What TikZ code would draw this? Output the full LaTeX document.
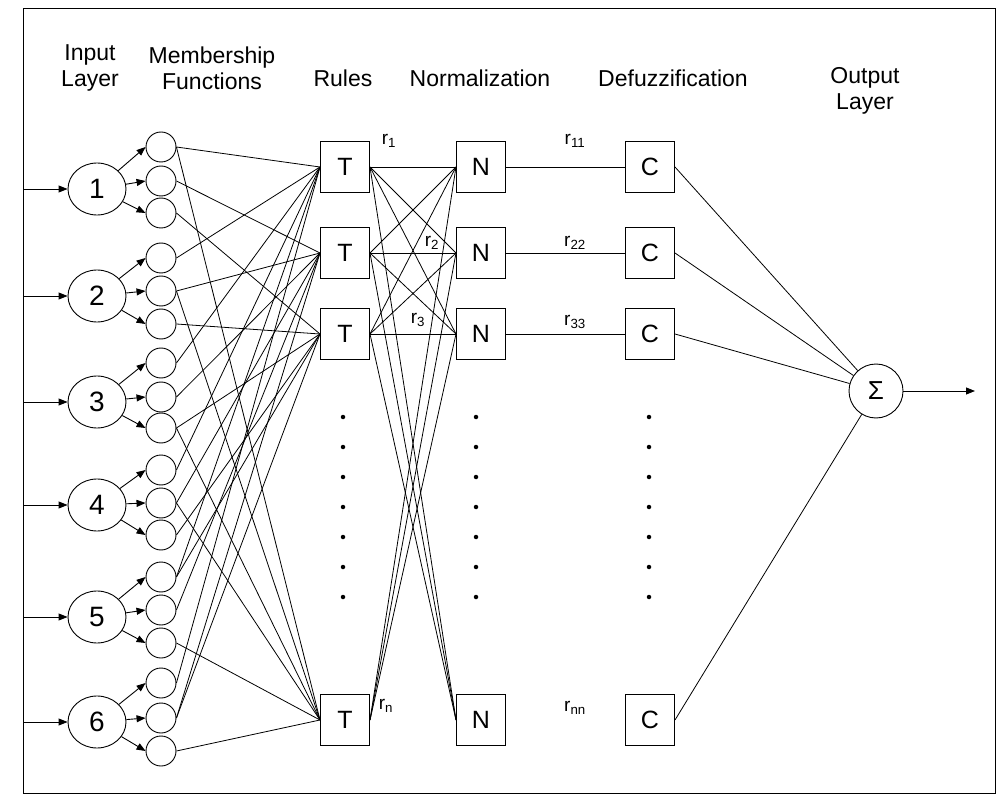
\documentclass[tikz,border=0pt]{standalone}
\usepackage{fontspec}
\setmainfont{Liberation Sans}
\usetikzlibrary{arrows.meta,shapes.geometric}
\begin{document}
\begin{tikzpicture}[x=1pt,y=-1pt,
  inp/.style={draw,ellipse,minimum width=58pt,minimum height=52pt,inner sep=0pt,font=\fontsize{28}{28}\selectfont,line width=0.9pt},
  mf/.style={draw,circle,minimum size=30pt,inner sep=0pt,line width=0.9pt},
  box/.style={draw,minimum width=49pt,minimum height=51pt,inner sep=0pt,font=\fontsize{25}{25}\selectfont,line width=1pt},
  hd/.style={align=center,font=\fontsize{23}{26}\selectfont},
  lb/.style={font=\fontsize{19}{19}\selectfont},
  arr/.style={-{Triangle[length=9pt,width=7pt]},line width=0.9pt},
  ln/.style={line width=0.8pt},
  dot/.style={circle,fill,inner sep=0pt,minimum size=4.5pt}]
\useasboundingbox (0,0) rectangle (1007,802);
\draw[line width=0.8pt] (23,8) rectangle (995,793);
\node[hd] at (90,68) {Input\\Layer};
\node[hd] at (212,68) {Membership\\Functions};
\node[hd] at (343,78) {Rules};
\node[hd] at (480,78) {Normalization};
\node[hd] at (673,78) {Defuzzification};
\node[hd] at (865,91) {Output\\Layer};
\foreach \i/\y in {1/189,2/296,3/402,4/505,5/617,6/722}{
  \node[inp] (I\i) at (97,\y) {\i};
  \coordinate (L\i) at (23,\y);
  \draw[arr] (L\i) -- (I\i);
}
\foreach \i/\a/\b/\c in {1/147/181/213,2/258/291/324,3/363/397/428,4/470/503/535,5/577/610/643,6/683/718/751}{
  \node[mf] (M\i a) at (161,\a) {};
  \node[mf] (M\i b) at (161,\b) {};
  \node[mf] (M\i c) at (161,\c) {};
  \foreach \k in {a,b,c}{\draw[arr] (I\i) -- (M\i\k.west);}
}
\foreach \k/\y in {1/167,2/253,3/334,4/720}{
  \node[box] (T\k) at (345,\y) {T};
  \node[box] (N\k) at (481,\y) {N};
  \node[box] (C\k) at (650,\y) {C};
}
\node[draw,circle,minimum size=54pt,inner sep=0pt,line width=0.9pt,font=\fontsize{26}{26}\selectfont] (S) at (876,391) {Σ};
\coordinate (O) at (975,391);
\draw[arr] (S) -- (O);
\foreach \y in {417,447,477,507,537,567,597}{
  \node[dot] at (343,\y) {}; \node[dot] at (476,\y) {}; \node[dot] at (649,\y) {};
}
\foreach \m in {1a,2a,3a,4a,5a,6a}{\draw[ln] (M\m.east) -- (T1.west);}
\foreach \m in {1b,2b,3b,4b,5b,6b}{\draw[ln] (M\m.east) -- (T2.west);}
\foreach \m in {1c,2c,3c,4c,5a,6b}{\draw[ln] (M\m.east) -- (T3.west);}
\foreach \m in {1a,2b,3c,4b,5c,6c}{\draw[ln] (M\m.east) -- (T4.west);}
\foreach \t/\n in {1/1,1/2,1/3,1/4,2/1,2/2,2/3,2/4,3/1,3/2,3/3,3/4,4/1,4/2,4/3}{
  \draw[ln] (T\t.east) -- (N\n.west);}
\foreach \k in {1,2,3}{\draw[ln] (N\k) -- (C\k);}
\foreach \k in {1,2,3,4}{\draw[ln] (C\k.east) -- (S);}
\node[lb] at (389,141) {r\textsubscript{1}};
\node[lb] at (432,243) {r\textsubscript{2}};
\node[lb] at (418,320) {r\textsubscript{3}};
\node[lb] at (386,706) {r\textsubscript{n}};
\node[lb] at (575,141) {r\textsubscript{11}};
\node[lb] at (575,243) {r\textsubscript{22}};
\node[lb] at (575,322) {r\textsubscript{33}};
\node[lb] at (575,708) {r\textsubscript{nn}};
\end{tikzpicture}
\end{document}
